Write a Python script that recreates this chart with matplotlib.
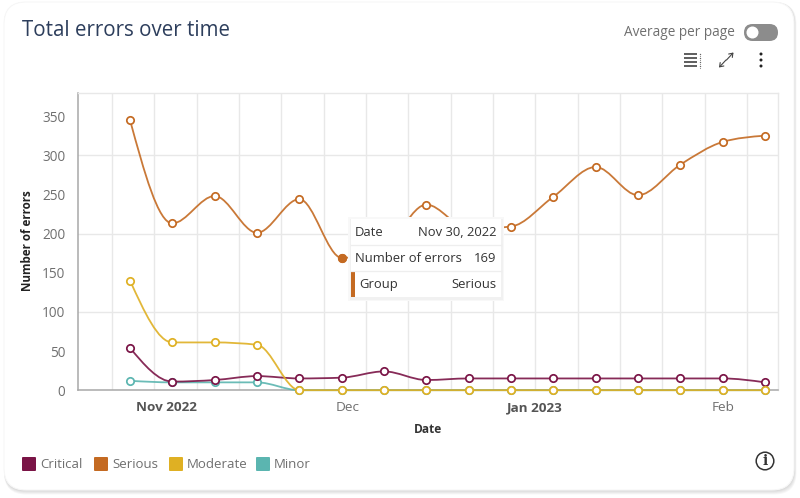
import datetime as dt
import numpy as np
import matplotlib
matplotlib.use("Agg")
import matplotlib.pyplot as plt
import matplotlib.dates as mdates
from matplotlib.path import Path
from matplotlib.patches import PathPatch, FancyBboxPatch, Rectangle, Circle

plt.rcParams['font.family'] = ['Open Sans', 'DejaVu Sans']

W, H = 800, 498

# data, one point a week
start = dt.date(2022, 10, 26)
dates = [start + dt.timedelta(days=7 * i) for i in range(16)]
critical = [54, 11, 13, 18, 15, 16, 24, 13, 15, 15, 15, 15, 15, 15, 15, 10]
serious = [345, 213, 248, 201, 244, 169, 182, 237, 206, 209, 247, 285, 249, 288, 317, 325]
moderate = [140, 61, 61, 58, 0, 0, 0, 0, 0, 0, 0, 0, 0, 0, 0, 0]
minor = [12, 10, 10, 10, 0, 0, 0, 0, 0, 0, 0, 0, 0, 0, 0, 0]

groups = ["Critical", "Serious", "Moderate", "Minor"]
colors = ["#7a1446", "#c46a22", "#dfb023", "#5bb5b0"]
yticks = [0, 50, 100, 150, 200, 250, 300, 350]
ygrid = [0, 100, 200, 300]
hover_index = 5
month_ticks = [dt.date(2022, 11, 1), dt.date(2022, 12, 1), dt.date(2023, 1, 1), dt.date(2023, 2, 1)]
month_labels = ["Nov 2022", "Dec", "Jan 2023", "Feb"]
month_bold = [True, False, True, False]
week_start = dt.date(2022, 10, 23)
week_grid = [week_start + dt.timedelta(days=7 * i) for i in range(16)]

GREY = "#6f6f6f"


def monotone_path(x, y):  # Bezier path with monotone tangents (no overshoot)
    x = np.asarray(x, dtype=float)
    y = np.asarray(y, dtype=float)
    h = np.diff(x)
    s = np.diff(y) / h
    t = np.zeros(len(x))
    for i in range(1, len(x) - 1):
        if s[i - 1] * s[i] > 0:
            p = (s[i - 1] * h[i] + s[i] * h[i - 1]) / (h[i - 1] + h[i])
            t[i] = np.sign(s[i]) * min(abs(s[i - 1]), abs(s[i]), 0.5 * abs(p)) * 2
    t[0] = (3 * s[0] - t[1]) / 2
    t[-1] = (3 * s[-1] - t[-2]) / 2
    verts = [(x[0], y[0])]
    codes = [Path.MOVETO]
    for i in range(len(h)):
        verts.append((x[i] + h[i] / 3, y[i] + t[i] * h[i] / 3))
        verts.append((x[i + 1] - h[i] / 3, y[i + 1] - t[i + 1] * h[i] / 3))
        verts.append((x[i + 1], y[i + 1]))
        codes += [Path.CURVE4] * 3
    return Path(verts, codes)


fig = plt.figure(figsize=(W / 100, H / 100), dpi=100, facecolor="white")

# background layer in pixel coords: card and soft shadow
bg = fig.add_axes([0, 0, 1, 1], zorder=0)
bg.set_xlim(0, W)
bg.set_ylim(H, 0)
bg.axis("off")
for grow in [5, 4, 3, 2, 1]:
    bg.add_patch(FancyBboxPatch((4, 2), 790 + grow * 0.5, 488 + grow * 0.9,
                                boxstyle="round,pad=0,rounding_size=22", fc="#000000", ec="none", alpha=0.03))
bg.add_patch(FancyBboxPatch((4, 2), 790, 488, boxstyle="round,pad=0,rounding_size=22",
                            fc="white", ec="#f7f7f7", lw=0.8))

# the chart
ax = fig.add_axes([78 / W, (H - 390.2) / H, 700 / W, 297.2 / H], zorder=1)
ax.patch.set_alpha(0)
x_dates = mdates.date2num(dates)
ax.set_xlim(x_dates[0] - 8.6, x_dates[-1] + 2.15)
ax.set_ylim(0, 379.5)
for d in week_grid:
    ax.axvline(mdates.date2num(d), color="#e8e8e8", lw=1.0, zorder=1)
for v in ygrid:
    ax.axhline(v, color="#e8e8e8", lw=1.0, zorder=1)

series = {"Minor": minor, "Critical": critical, "Serious": serious, "Moderate": moderate}
color_of = dict(zip(groups, colors))
z = 3
for name, vals in series.items():
    ax.add_patch(PathPatch(monotone_path(x_dates, vals), fc="none", ec=color_of[name],
                           lw=1.3, alpha=0.9, zorder=z, clip_on=False, capstyle="round"))
    ax.plot(x_dates, vals, ls="none", marker="o", ms=5.3, mfc="white", mec=color_of[name],
            mew=1.25, zorder=z + 0.5, clip_on=False)
    z += 1
ax.plot(x_dates[hover_index], serious[hover_index], ls="none", marker="o", ms=5.6,
        color=color_of["Serious"], zorder=9)

for s in ["top", "right"]:
    ax.spines[s].set_color("#e8e8e8")
    ax.spines[s].set_linewidth(1.0)
for s in ["left", "bottom"]:
    ax.spines[s].set_color("#a8a8a8")
    ax.spines[s].set_linewidth(1.1)
ax.set_yticks(yticks)
ax.tick_params(axis="y", length=0, pad=9, labelsize=9.8, labelcolor=GREY)
ax.set_xticks(mdates.date2num(month_ticks))
ax.set_xticklabels(month_labels)
for lab, bold in zip(ax.get_xticklabels(), month_bold):
    lab.set_fontweight("bold" if bold else "normal")
    lab.set_color("#555555" if bold else GREY)
ax.tick_params(axis="x", length=0, pad=8, labelsize=9.7)

# foreground layer: text, tooltip and icons in pixel coords
fg = fig.add_axes([0, 0, 1, 1], zorder=2)
fg.set_xlim(0, W)
fg.set_ylim(H, 0)
fg.axis("off")
fg.patch.set_alpha(0)

fg.text(22, 30, "Total errors over time", fontsize=14.8, color="#2d3e5c", va="center")
fg.text(28, 241, "Number of errors", rotation=90, fontsize=8.4, fontweight="bold",
        color="#222222", ha="center", va="center")
fg.text(428, 429, "Date", fontsize=8.6, fontweight="bold", color="#333333", ha="center", va="center")

# toggle
fg.text(735, 32.5, "Average per page", fontsize=9.8, color=GREY, ha="right", va="center")
fg.add_patch(FancyBboxPatch((752.5, 32.5), 17, 0, boxstyle="round,pad=8.5", fc="#8c8c8c", ec="none"))
fg.add_patch(Circle((752.5, 32.5), 6, fc="white", ec="none"))

# list icon
for yy in [53.5, 57.5, 61.5, 65.5]:
    fg.plot([684, 697], [yy, yy], color="#333333", lw=1.1, solid_capstyle="butt")
    fg.plot([700], [yy], marker="o", ms=1.0, mew=0, color="#666666")
    fg.plot([700], [yy + 2], marker="o", ms=0.8, mew=0, color="#888888")

# expand icon
fg.annotate("", xy=(733.5, 52.5), xytext=(726.5, 60),
            arrowprops=dict(arrowstyle="->,head_length=0.25,head_width=0.18", color="#444444", lw=0.8, shrinkA=0, shrinkB=0))
fg.annotate("", xy=(719, 67.5), xytext=(726, 60),
            arrowprops=dict(arrowstyle="->,head_length=0.25,head_width=0.18", color="#444444", lw=0.8, shrinkA=0, shrinkB=0))

# kebab
for yy in [54, 60, 66]:
    fg.add_patch(Circle((761, yy), 1.5, fc="#222222", ec="none"))

# tooltip
for pad, col in [(3, "#f8f8f8"), (1.5, "#f1f1f1")]:
    fg.add_patch(Rectangle((351 - pad, 219 - pad + 1), 150 + 2 * pad, 78 + 2 * pad, fc=col, ec="none"))
fg.add_patch(Rectangle((351, 219), 150, 78, fc="white", ec="none"))
for yy in [245, 271]:
    fg.plot([351, 501], [yy, yy], color="#eeeeee", lw=0.9)
fg.add_patch(Rectangle((351, 271), 4, 26, fc=colors[1], ec="none"))
tip_rows = [("Date", "Nov 30, 2022", 355, 232), ("Number of errors", "169", 355, 258), ("Group", "Serious", 359, 284.5)]
for left, right, tx, ty in tip_rows:
    fg.text(tx, ty, left, fontsize=9.4, color="#333333", va="center")
    fg.text(496.5, ty, right, fontsize=9.4, color="#333333", ha="right", va="center")

# legend
legend_box = [22, 94, 169, 256]
legend_txt = [40, 112, 187, 274]
for name, col, bx, tx in zip(groups, colors, legend_box, legend_txt):
    fg.add_patch(FancyBboxPatch((bx + 1, 458), 12, 12, boxstyle="round,pad=1", fc=col, ec="none"))
    fg.text(tx, 464, name, fontsize=9.5, color=GREY, va="center")

# info icon
fg.add_patch(Circle((765, 461), 8.8, fc="white", ec="#333333", lw=1.1))
fg.text(765, 461, "i", fontsize=10, fontweight="bold", family="DejaVu Serif", color="#333333",
        ha="center", va="center")

fig.savefig("out.png", dpi=100)
